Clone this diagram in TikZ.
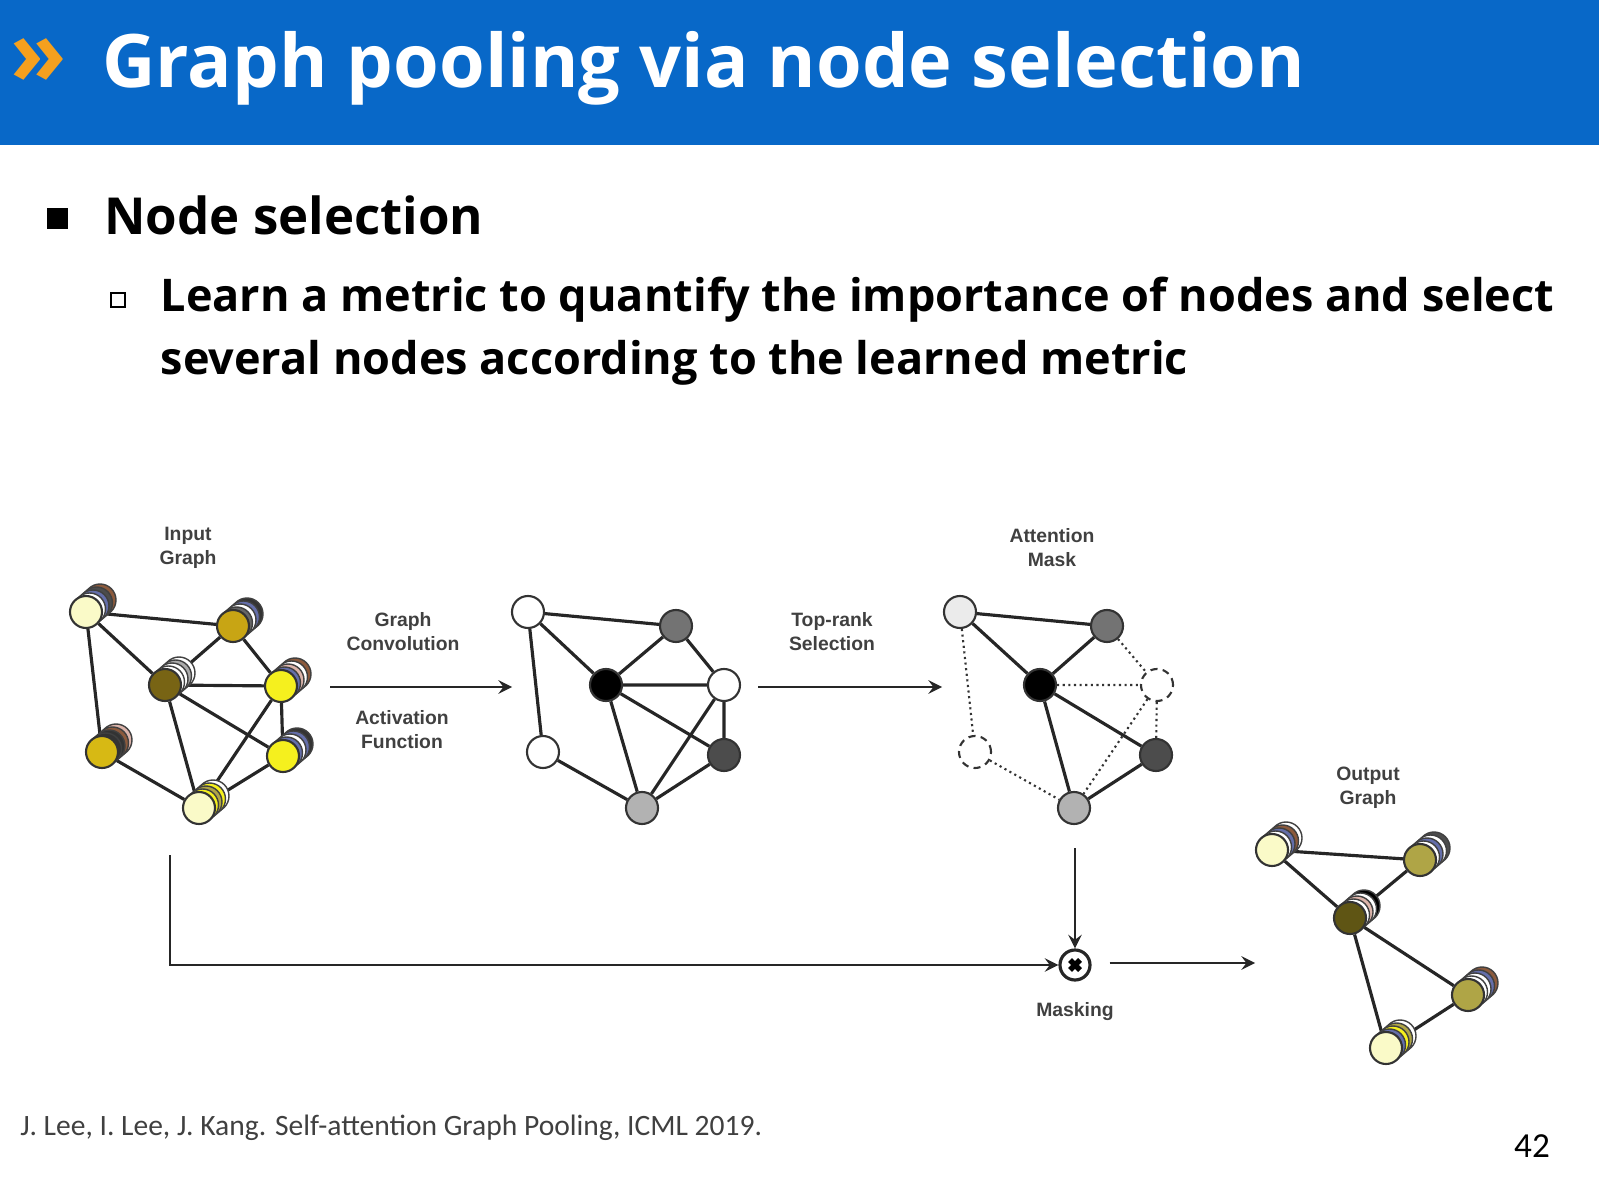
\documentclass[tikz,border=0pt]{standalone}
\usepackage{fontspec}
\setmainfont{Open Sans}
\newfontfamily\lab{Liberation Sans}
\newfontfamily\foot{Carlito}
\usetikzlibrary{calc,backgrounds}
\definecolor{bar}{RGB}{8,104,200}
\definecolor{chev}{RGB}{245,160,30}
\definecolor{pale}{RGB}{250,250,200}
\definecolor{dgold}{RGB}{200,165,20}
\definecolor{olive}{RGB}{120,100,20}
\definecolor{yel}{RGB}{245,240,30}
\definecolor{gold}{RGB}{215,185,20}
\definecolor{khaki}{RGB}{175,165,70}
\definecolor{dolive}{RGB}{95,85,20}
\definecolor{cbrown}{RGB}{140,90,60}
\definecolor{cblue}{RGB}{100,110,170}
\definecolor{cpink}{RGB}{220,180,170}
\definecolor{cgray}{RGB}{170,170,170}
\newcommand\stacknode[4]{%
  \foreach \c [count=\i] in {#4} {\pgfmathsetmacro\k{5-\i}
    \path[draw=black!75,fill=\c] ($(#2)+(\k*3.5,-\k*3)$) circle[radius=16];}
  \node[nd,fill=#3] (#1) at (#2) {};}
\tikzset{
  nd/.style={circle,draw=black!80,minimum size=0.32cm,inner sep=0pt,line width=0.6pt},
  ed/.style={line width=0.9pt,black!85},
  dt/.style={densely dotted,line width=0.6pt,black!80},
  arr/.style={->,>=stealth,line width=0.7pt,black!85},
  lbl/.style={font=\lab\fontsize{5.5}{6.8}\selectfont\bfseries,text=black!75,align=center}
}
\begin{document}
\begin{tikzpicture}[x=0.01cm,y=-0.01cm]
\useasboundingbox (0,0) rectangle (1599,1185);
\fill[bar] (0,0) rectangle (1599,145);
\node[anchor=west,text=chev,font=\bfseries\fontsize{26}{28}\selectfont] (ch) at (-2,62) {»};
\node[anchor=west,text=white,font=\bfseries\fontsize{21}{24}\selectfont] (title) at (90,68) {Graph pooling via node selection};
\fill (47,208) rectangle (68,229);
\node[anchor=west,font=\bfseries\fontsize{14.5}{16}\selectfont] (h1) at (92,215) {Node selection};
\draw[line width=0.8pt] (111,293) rectangle (125,307);
\node[anchor=north west,align=left,font=\bfseries\fontsize{12.8}{18}\selectfont,inner sep=0pt] (h2) at (160,276) {Learn a metric to quantify the importance of nodes and select\\several nodes according to the learned metric};
% input graph
\stacknode{a1}{86,612}{pale}{cbrown,black!70,cblue,white}
\stacknode{b1}{233,626}{dgold}{black!80,cblue,white,black!60}
\stacknode{c1}{165,685}{olive}{white,cgray,white,white}
\stacknode{d1}{281,686}{yel}{cbrown,white,cpink,cblue}
\stacknode{e1}{102,752}{gold}{cpink,cbrown,black!80,black!80}
\stacknode{f1}{283,756}{yel}{black!80,cblue,white,cblue}
\stacknode{g1}{199,808}{pale}{white,yel,khaki,yel}
% graph 2
\node[nd,fill=white] (a2) at (528,612) {};
\node[nd,fill=black!55] (b2) at (676,626) {};
\node[nd,fill=black] (c2) at (606,685) {};
\node[nd,fill=white] (d2) at (724,685) {};
\node[nd,fill=white] (e2) at (543,752) {};
\node[nd,fill=black!70] (f2) at (724,755) {};
\node[nd,fill=black!30] (g2) at (642,808) {};
% graph 3
\node[nd,fill=black!8] (a3) at (960,612) {};
\node[nd,fill=black!55] (b3) at (1107,626) {};
\node[nd,fill=black] (c3) at (1040,685) {};
\node[nd,fill=white,dash pattern=on 2pt off 1.5pt] (d3) at (1157,685) {};
\node[nd,fill=white,dash pattern=on 2pt off 1.5pt] (e3) at (975,752) {};
\node[nd,fill=black!70] (f3) at (1156,755) {};
\node[nd,fill=black!30] (g3) at (1074,808) {};
% output
\stacknode{a4}{1272,850}{pale}{white,cbrown,cblue,white}
\stacknode{b4}{1420,860}{khaki}{black!70,white,cblue,white}
\stacknode{c4}{1350,918}{dolive}{black,white,cpink,white}
\stacknode{f4}{1468,995}{khaki}{cbrown,cblue,white,white}
\stacknode{g4}{1386,1048}{pale}{white,khaki,yel,cblue}
\begin{scope}[on background layer]
\foreach \g in {1,2} {
 \draw[ed] (a\g)--(b\g) (a\g)--(c\g) (a\g)--(e\g) (b\g)--(c\g) (b\g)--(d\g) (c\g)--(d\g)
   (c\g)--(f\g) (c\g)--(g\g) (d\g)--(f\g) (d\g)--(g\g) (e\g)--(g\g) (f\g)--(g\g);}
\draw[ed] (a3)--(b3) (a3)--(c3) (b3)--(c3) (c3)--(f3) (c3)--(g3) (f3)--(g3);
\draw[dt] (a3)--(e3) (e3)--(g3) (c3)--(d3) (b3)--(d3) (d3)--(f3) (d3)--(g3);
\draw[ed] (a4)--(b4) (a4)--(c4) (b4)--(c4) (c4)--(f4) (c4)--(g4) (f4)--(g4);
\end{scope}
% labels
\node[lbl] (l1) at (188,548) {Input\\Graph};
\node[lbl] (l2) at (403,632) {Graph\\Convolution};
\node[lbl] (l3) at (402,730) {Activation\\Function};
\node[lbl] (l4) at (832,632) {Top-rank\\Selection};
\node[lbl] (l5) at (1052,548) {Attention\\Mask};
\node[lbl] (l6) at (1368,788) {Output\\Graph};
\node[lbl] (l7) at (1075,1012) {Masking};
% arrows
\coordinate (p1) at (330,687); \coordinate (p2) at (512,687);
\coordinate (p3) at (758,687); \coordinate (p4) at (942,687);
\coordinate (p5) at (1075,848); \coordinate (p6) at (170,855);
\coordinate (p7) at (1255,963);
\node[circle,draw=black!85,line width=0.9pt,minimum size=0.3cm,inner sep=0pt] (m) at (1075,965) {};
\draw[line width=1.6pt] ($(m)+(-5,-5)$)--($(m)+(5,5)$) ($(m)+(-5,5)$)--($(m)+(5,-5)$);
\draw[arr] (p5)--(m.north);
\draw[arr] (p1)--(p2);
\draw[arr] (p3)--(p4);
\draw[arr] (p6)|-(m.west);
\draw[arr] (m.east)++(18,-2)--(p7);
\node[anchor=west,font=\foot\fontsize{8.4}{9}\selectfont,text=black!75] (ref) at (8,1128) {J. Lee, I. Lee, J. Kang. Self-attention Graph Pooling, ICML 2019.};
\node[font=\foot\fontsize{10}{11}\selectfont] (pg) at (1532,1146) {42};
\end{tikzpicture}
\end{document}
